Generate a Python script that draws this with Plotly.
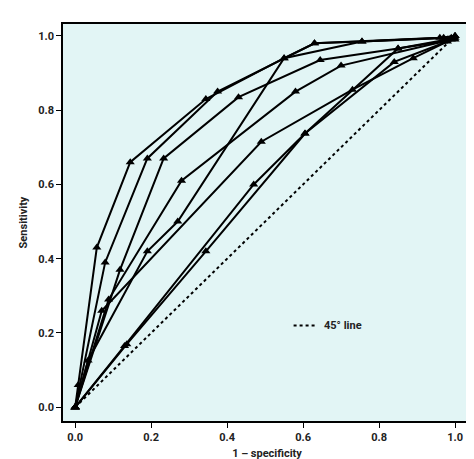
import plotly.graph_objects as go

# ROC curves (1 - specificity, sensitivity)
curves = [
    ([0, 0.008, 0.057, 0.145, 0.344, 0.55, 0.63, 0.755, 0.97, 1.0],
     [0, 0.06, 0.43, 0.66, 0.83, 0.94, 0.98, 0.985, 0.995, 1.0]),
    ([0, 0.079, 0.19, 0.375, 0.63, 0.96, 1.0],
     [0, 0.39, 0.67, 0.85, 0.98, 0.995, 1.0]),
    ([0, 0.118, 0.233, 0.43, 0.645, 0.85, 0.98, 1.0],
     [0, 0.37, 0.67, 0.835, 0.935, 0.966, 0.99, 1.0]),
    ([0, 0.088, 0.28, 0.58, 0.70, 0.97, 1.0],
     [0, 0.29, 0.61, 0.85, 0.92, 0.985, 0.995]),
    ([0, 0.07, 0.49, 0.73, 0.89, 0.99],
     [0, 0.26, 0.715, 0.855, 0.94, 0.99]),
    ([0, 0.034, 0.19, 0.27, 0.55, 0.755, 0.99],
     [0, 0.126, 0.42, 0.50, 0.94, 0.985, 0.995]),
    ([0, 0.136, 0.344, 0.605, 0.84, 0.98],
     [0, 0.17, 0.42, 0.737, 0.93, 0.985]),
    ([0, 0.13, 0.47, 0.605, 0.85, 1.0],
     [0, 0.165, 0.60, 0.737, 0.966, 0.99]),
]
diag = [0, 1]
legend_x = [0.575, 0.635]
legend_y = [0.22, 0.22]

fig = go.Figure()
fig.add_scatter(x=diag, y=diag, mode="lines", line=dict(color="black", width=2, dash="dot"))
for cx, cy in curves:
    fig.add_scatter(x=cx, y=cy, mode="lines+markers",
                    line=dict(color="black", width=2),
                    marker=dict(symbol="triangle-up", size=8, color="black"))
fig.add_scatter(x=legend_x, y=legend_y, mode="lines", line=dict(color="black", width=2, dash="dot"))
fig.add_annotation(x=0.65, y=0.22, text="<b>45° line</b>", showarrow=False, xanchor="left",
                   font=dict(size=11, color="#222"))

ax = dict(showgrid=False, zeroline=False, showline=True, mirror=True, linecolor="black",
          linewidth=1.5, ticks="outside", ticklen=5, tickcolor="black",
          tickvals=[0, 0.2, 0.4, 0.6, 0.8, 1.0],
          ticktext=["<b>0.0</b>", "<b>0.2</b>", "<b>0.4</b>", "<b>0.6</b>", "<b>0.8</b>", "<b>1.0</b>"],
          tickfont=dict(size=11, color="#222"))
fig.update_xaxes(ax, range=[-0.032, 1.042], title=dict(text="<b>1 – specificity</b>", standoff=6, font=dict(size=11)))
fig.update_yaxes(ax, range=[-0.037, 1.032], title=dict(text="<b>Sensitivity</b>", standoff=8, font=dict(size=11)))
fig.update_layout(width=474, height=459, showlegend=False,
                  paper_bgcolor="white", plot_bgcolor="#e2f5f5",
                  margin=dict(l=55, r=9, t=16, b=41),
                  font=dict(family="Liberation Sans Narrow, Roboto, sans-serif", color="#222"))
fig.write_html("out.html")
